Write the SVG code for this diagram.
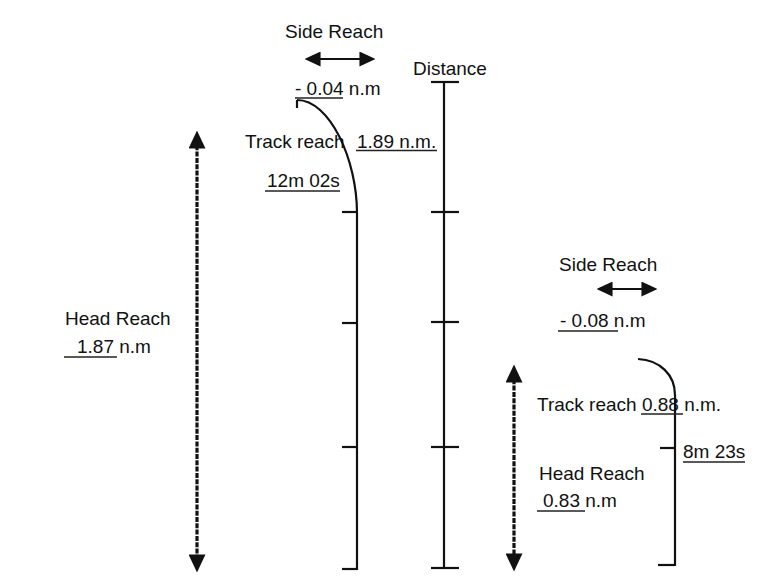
<svg xmlns="http://www.w3.org/2000/svg" width="768" height="586" viewBox="0 0 768 586">
<style>
text{font-family:"Liberation Sans",Arial,sans-serif;font-size:19px;fill:#111}
.ln{stroke:#111;stroke-width:2.2;fill:none}
.ul{stroke:#222;stroke-width:1.6}
.dash{stroke:#111;stroke-width:3.2;stroke-dasharray:5 1.3;fill:none}
.side{stroke:#111;stroke-width:2.2;fill:none}
</style>
<defs>
<marker id="ah" markerUnits="userSpaceOnUse" markerWidth="18" markerHeight="17" viewBox="0 0 17 16" refX="9" refY="8" orient="auto-start-reverse">
<path d="M0,0 L17,8 L0,16 Z" fill="#111"/>
</marker>
<marker id="sh" markerUnits="userSpaceOnUse" markerWidth="16" markerHeight="15" viewBox="0 0 15 14" refX="8" refY="7" orient="auto-start-reverse">
<path d="M0,0 L15,7 L0,14 Z" fill="#111"/>
</marker>
</defs>
<rect width="768" height="586" fill="#fff"/>
<g id="connectors">
<line class="dash" x1="197" y1="139" x2="197" y2="564" marker-start="url(#ah)" marker-end="url(#ah)"/>
<line class="dash" x1="514" y1="373" x2="514" y2="563" marker-start="url(#ah)" marker-end="url(#ah)"/>
<line class="side" x1="312" y1="59" x2="368" y2="59" marker-start="url(#sh)" marker-end="url(#sh)"/>
<line class="side" x1="604" y1="289" x2="650" y2="289" marker-start="url(#sh)" marker-end="url(#sh)"/>
</g>
<g id="track-left">
<path class="ln" d="M297,100 C330,100 357,160 357,213 L357,570"/>
<line class="ln" x1="297" y1="100" x2="297" y2="108"/>
<line class="ln" x1="342" y1="212" x2="357" y2="212"/>
<line class="ln" x1="342" y1="323" x2="357" y2="323"/>
<line class="ln" x1="342" y1="447" x2="357" y2="447"/>
<line class="ln" x1="342" y1="569" x2="357" y2="569"/>
</g>
<g id="distance">
<line class="ln" x1="444" y1="82" x2="444" y2="568"/>
<line class="ln" x1="431" y1="82" x2="459" y2="82"/>
<line class="ln" x1="431" y1="212" x2="459" y2="212"/>
<line class="ln" x1="431" y1="322" x2="459" y2="322"/>
<line class="ln" x1="431" y1="447" x2="459" y2="447"/>
<line class="ln" x1="431" y1="568" x2="459" y2="568"/>
<text x="413" y="75">Distance</text>
</g>
<g id="track-right">
<path class="ln" d="M638,359 C660,360 675,375 675,395 L675,566"/>
<line class="ln" x1="660" y1="448" x2="675" y2="448"/>
<line class="ln" x1="658" y1="565" x2="675" y2="565"/>
</g>
<g id="labels-left">
<text x="285" y="38">Side Reach</text>
<text x="295" y="95">- 0.04 n.m</text>
<line class="ul" x1="295" y1="98" x2="343" y2="98"/>
<text x="245" y="148">Track reach</text>
<text x="357" y="148">1.89 n.m.</text>
<line class="ul" x1="356" y1="150.5" x2="437" y2="150.5"/>
<text x="267" y="187">12m 02s</text>
<line class="ul" x1="265" y1="191" x2="340" y2="191"/>
<text x="65" y="325">Head Reach</text>
<text x="77" y="353">1.87 n.m</text>
<line class="ul" x1="64" y1="357" x2="117" y2="357"/>
</g>
<g id="labels-right">
<text x="559" y="271">Side Reach</text>
<text x="560" y="327">- 0.08 n.m</text>
<line class="ul" x1="558" y1="331" x2="618" y2="331"/>
<text x="537" y="411">Track reach 0.88 n.m.</text>
<line class="ul" x1="641" y1="414" x2="683" y2="414"/>
<text x="683" y="458">8m 23s</text>
<line class="ul" x1="683" y1="462" x2="745" y2="462"/>
<text x="539" y="480">Head Reach</text>
<text x="543" y="507">0.83 n.m</text>
<line class="ul" x1="537" y1="511" x2="585" y2="511"/>
</g>
</svg>
